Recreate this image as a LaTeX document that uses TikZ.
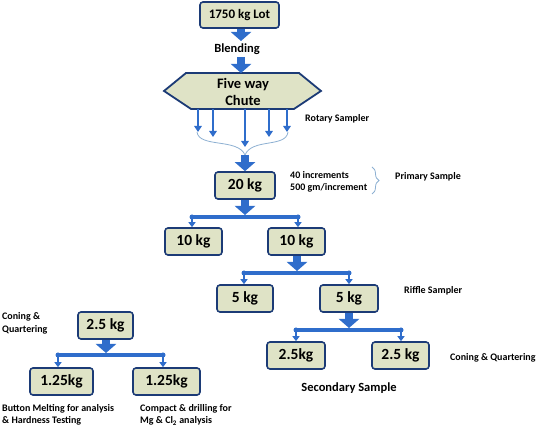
\documentclass[tikz,border=0pt]{standalone}
\usepackage{fontspec}
\setmainfont{Carlito}
\usetikzlibrary{arrows.meta,decorations.pathreplacing}
\definecolor{boxfill}{HTML}{DFE3C6}
\definecolor{boxline}{HTML}{1C3B76}
\definecolor{arrblue}{HTML}{2F6DCB}
\definecolor{thinblue}{HTML}{8DB0D2}
\begin{document}
\begin{tikzpicture}[x=1pt,y=-1pt,
 kbox/.style={draw=boxline, line width=1.6pt, fill=boxfill, rounded corners=3pt, minimum height=27pt, inner sep=0pt, font=\fontsize{15.5}{16}\selectfont\bfseries},
 lbl/.style={inner sep=0pt, font=\fontsize{10}{12}\selectfont\bfseries, align=left},
 blockarrow/.style={arrblue, line width=8pt, -{Triangle[width=20pt,length=9pt]}},
 thinarrow/.style={arrblue, line width=2.6pt, -{Triangle[width=7.5pt,length=6pt]}},
 smallarrow/.style={arrblue, line width=2.2pt, -{Triangle[width=7pt,length=5pt]}},
 barline/.style={arrblue, line width=4pt},
 bardot/.style={circle, fill=arrblue, inner sep=0pt, minimum size=5pt},
 thinline/.style={thinblue, line width=0.8pt}
]
\useasboundingbox (0,0) rectangle (544,427);

% top
\node[kbox, minimum width=79pt, minimum height=26pt, font=\fontsize{13}{14}\selectfont\bfseries] (lot) at (239.5,15) {1750 kg Lot};
\node[inner sep=1pt, font=\fontsize{12.5}{14}\selectfont\bfseries] (blend) at (237,49) {Blending};
\draw[blockarrow] (lot.south -| 241,0) -- (241,41);

% hexagon
\coordinate (hL) at (164,91);
\coordinate (hTL) at (186,73);
\coordinate (hTR) at (299,73);
\coordinate (hR) at (321,91);
\coordinate (hBR) at (294,109);
\coordinate (hBL) at (191,109);
\coordinate (hTop) at (241,73);
\draw[draw=boxline, line width=1.8pt, fill=boxfill, line join=miter] (hL) -- (hTL) -- (hTR) -- (hR) -- (hBR) -- (hBL) -- cycle;
\node[align=center, inner sep=0pt, font=\fontsize{14.5}{17}\selectfont\bfseries] (chute) at (243,92) {Five way\\Chute};
\draw[blockarrow] (241,57) -- (hTop);

% five arrows
\coordinate (s1) at (198,109); \coordinate (e1) at (198,132);
\coordinate (s2) at (213,109); \coordinate (e2) at (213,137);
\coordinate (s3) at (245,109); \coordinate (e3) at (245,147);
\coordinate (s4) at (269,109); \coordinate (e4) at (269,137);
\coordinate (s5) at (287,109); \coordinate (e5) at (287,132);
\foreach \i in {1,...,5} {\draw[thinarrow] (s\i) -- (e\i);}
\coordinate (join) at (245,155);
\draw[thinline] (197,132) .. controls (199,148) and (238,138) .. (join);
\draw[thinline] (288,132) .. controls (286,148) and (252,138) .. (join);
\node[lbl, anchor=west] (rotary) at (305,119) {Rotary Sampler};

% 20 kg
\node[kbox, minimum width=60pt] (b20) at (245,185.5) {20 kg};
\draw[blockarrow] (join) -- (b20.north);
\node[lbl, anchor=west, font=\fontsize{10}{12}\selectfont\bfseries] (inc) at (290,182) {40 increments\\500 gm/increment};
\draw[thinline, decorate, decoration={brace, amplitude=7pt}] (372,167) -- (372,194);
\node[lbl, anchor=west] (primary) at (395,177) {Primary Sample};

% level 10 kg
\node[kbox, minimum width=57pt] (b10a) at (193.5,241.5) {10 kg};
\node[kbox, minimum width=57pt] (b10b) at (296.5,241.5) {10 kg};
\node[bardot] (d1a) at (192,217) {};
\node[bardot] (d1b) at (298,217) {};
\draw[barline] (d1a.center) -- (d1b.center);
\draw[blockarrow] (b20.south) -- (245,215);
\draw[smallarrow] (d1a.center) -- (d1a.center |- b10a.north);
\draw[smallarrow] (d1b.center) -- (d1b.center |- b10b.north);

% level 5 kg
\node[kbox, minimum width=56pt] (b5a) at (245,298.5) {5 kg};
\node[kbox, minimum width=58pt] (b5b) at (349,298.5) {5 kg};
\node[bardot] (d2a) at (244,273) {};
\node[bardot] (d2b) at (349,273) {};
\draw[barline] (d2a.center) -- (d2b.center);
\draw[blockarrow] (b10b.south -| 297,0) -- (297,271);
\draw[smallarrow] (d2a.center) -- (d2a.center |- b5a.north);
\draw[smallarrow] (d2b.center) -- (d2b.center |- b5b.north);
\node[lbl, anchor=west] (riffle) at (404,291) {Riffle Sampler};

% level 2.5 kg
\node[kbox, minimum width=58pt] (b25a) at (296,355.5) {2.5kg};
\node[kbox, minimum width=57pt] (b25b) at (400.5,355.5) {2.5 kg};
\node[bardot] (d3a) at (296,330) {};
\node[bardot] (d3b) at (401,330) {};
\draw[barline] (d3a.center) -- (d3b.center);
\draw[blockarrow] (b5b.south) -- (349,328);
\draw[smallarrow] (d3a.center) -- (d3a.center |- b25a.north);
\draw[smallarrow] (d3b.center) -- (d3b.center |- b25b.north);
\node[lbl, anchor=west] (coning2) at (450,358) {Coning \& Quartering};
\node[inner sep=0pt, font=\fontsize{12.5}{14}\selectfont\bfseries] (secondary) at (349,388) {Secondary Sample};

% left branch
\node[kbox, minimum width=55pt] (b25c) at (105.5,325.5) {2.5 kg};
\node[lbl, anchor=west, font=\fontsize{10}{13}\selectfont\bfseries] (coning1) at (2,323.5) {Coning \&\\Quartering};
\node[kbox, minimum width=63pt] (b125a) at (61.5,381.5) {1.25kg};
\node[kbox, minimum width=67pt] (b125b) at (166.5,381.5) {1.25kg};
\node[bardot] (d4a) at (58,355) {};
\node[bardot] (d4b) at (163,355) {};
\draw[barline] (d4a.center) -- (d4b.center);
\draw[blockarrow] (b25c.south -| 106,0) -- (106,353);
\draw[smallarrow] (d4a.center) -- (d4a.center |- b125a.north);
\draw[smallarrow] (d4b.center) -- (d4b.center |- b125b.north);
\node[lbl, anchor=west] (button) at (2,415) {Button Melting for analysis\\\& Hardness Testing};
\node[lbl, anchor=west] (compact) at (140,415) {Compact \& drilling for\\Mg \& Cl\textsubscript{2} analysis};
\end{tikzpicture}
\end{document}
